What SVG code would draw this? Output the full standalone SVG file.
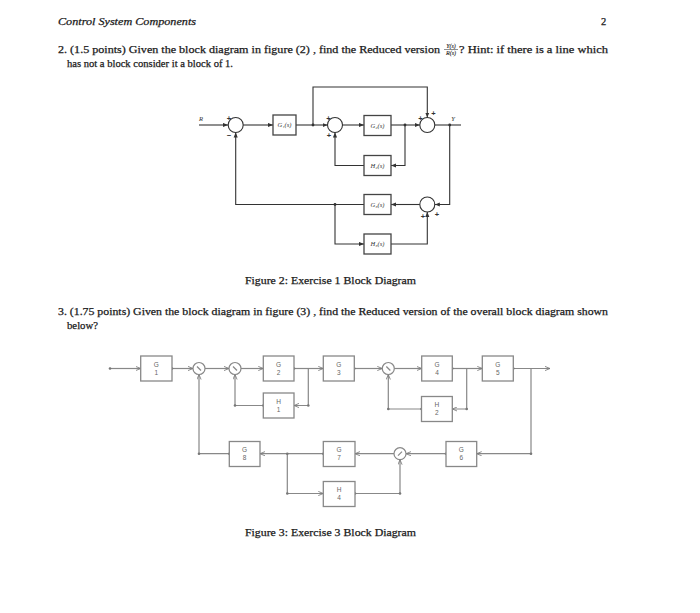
<svg xmlns="http://www.w3.org/2000/svg" width="700" height="613" viewBox="0 0 700 613">
<defs>
<style>
.t{font-family:"Liberation Serif",serif;font-size:10.5px;fill:#1a1a1a;stroke:#1a1a1a;stroke-width:0.25}
.it{font-style:italic}
.f2{fill:none;stroke:#333;stroke-width:1.1}
.b2{fill:#fff;stroke:#444;stroke-width:1.3}
.l2{font-family:"Liberation Serif",serif;font-style:italic;font-size:6.5px;fill:#333;text-anchor:middle}
.s2{font-family:"Liberation Sans",sans-serif;font-size:7.5px;fill:#333;text-anchor:middle;font-weight:bold}
.f3{fill:none;stroke:#888;stroke-width:1.2}
.b3{fill:#fff;stroke:#888;stroke-width:1.3}
.l3{font-family:"Liberation Sans",sans-serif;font-size:6.5px;fill:#666;text-anchor:middle}
.d2{fill:#333}
.d3{fill:#777}
</style>
<marker id="a2" viewBox="0 0 6 6" refX="6" refY="3" markerWidth="5" markerHeight="5" orient="auto" markerUnits="userSpaceOnUse"><path d="M0,0.5 L6,3 L0,5.5 Z" fill="#333"/></marker>
<marker id="a3" viewBox="0 0 6 6" refX="6" refY="3" markerWidth="5" markerHeight="5" orient="auto" markerUnits="userSpaceOnUse"><path d="M0,0.5 L6,3 L0,5.5" fill="none" stroke="#777" stroke-width="1"/></marker>
</defs>
<rect width="700" height="613" fill="#fff"/>

<g id="text">
<text class="t it" x="58" y="25" textLength="138" lengthAdjust="spacingAndGlyphs">Control System Components</text>
<text class="t" x="601" y="25">2</text>
<text class="t" x="58" y="53" textLength="382" lengthAdjust="spacingAndGlyphs">2. (1.5 points) Given the block diagram in figure (2) , find the Reduced version</text>
<text class="t it" x="451" y="48" text-anchor="middle" style="font-size:6px;stroke-width:0.1">Y(s)</text>
<line x1="444" y1="49.5" x2="458" y2="49.5" stroke="#222" stroke-width="0.5"/>
<text class="t it" x="451" y="55" style="font-size:6px;stroke-width:0.1" text-anchor="middle">R(s)</text>
<text class="t" x="459" y="53" textLength="149" lengthAdjust="spacingAndGlyphs">? Hint: if there is a line which</text>
<text class="t" x="67" y="67" textLength="166" lengthAdjust="spacingAndGlyphs">has not a block consider it a block of 1.</text>
<text class="t" x="245" y="284" textLength="171" lengthAdjust="spacingAndGlyphs">Figure 2: Exercise 1 Block Diagram</text>
<text class="t" x="58" y="315" textLength="550" lengthAdjust="spacingAndGlyphs">3. (1.75 points) Given the block diagram in figure (3) , find the Reduced version of the overall block diagram shown</text>
<text class="t" x="67" y="329" textLength="31" lengthAdjust="spacingAndGlyphs">below?</text>
<text class="t" x="245" y="536" textLength="171" lengthAdjust="spacingAndGlyphs">Figure 3: Exercise 3 Block Diagram</text>
</g>

<g id="fig2-connectors">
<path class="f2" d="M199,125 H228" marker-end="url(#a2)"/>
<path class="f2" d="M243.2,125 H273" marker-end="url(#a2)"/>
<path class="f2" d="M296,125 H327.5" marker-end="url(#a2)"/>
<path class="f2" d="M313,125 V87 H427.3 V117.5" marker-end="url(#a2)"/>
<path class="f2" d="M342.5,125 H364" marker-end="url(#a2)"/>
<path class="f2" d="M391,125 H419.8" marker-end="url(#a2)"/>
<path class="f2" d="M405,125 V165.5 H391" marker-end="url(#a2)"/>
<path class="f2" d="M364,165.5 H335 V132.5" marker-end="url(#a2)"/>
<path class="f2" d="M434.8,125 H461"/>
<path class="f2" d="M449.7,125 V204.5 H434.8" marker-end="url(#a2)"/>
<path class="f2" d="M419.8,204.5 H391" marker-end="url(#a2)"/>
<path class="f2" d="M364,204.5 H235.7 V132.5" marker-end="url(#a2)"/>
<path class="f2" d="M335,204.5 V244 H364" marker-end="url(#a2)"/>
<path class="f2" d="M391,244 H427.3 V212" marker-end="url(#a2)"/>
<circle class="d2" cx="313" cy="125" r="1.4"/>
<circle class="d2" cx="405" cy="125" r="1.4"/>
<circle class="d2" cx="449.7" cy="125" r="1.4"/>
<circle class="d2" cx="335" cy="204.5" r="1.4"/>
</g>

<g id="fig2-nodes">
<g id="f2-sum1"><circle cx="235.7" cy="125" r="7.5" class="f2"/><text class="s2" x="229" y="121">+</text><text class="s2" x="229" y="138">−</text></g>
<g id="f2-G1"><rect class="b2" x="273" y="115" width="23" height="20"/><text class="l2" x="284.5" y="127">G₁(s)</text></g>
<g id="f2-sum2"><circle cx="335" cy="125" r="7.5" class="f2"/><text class="s2" x="328.5" y="121">+</text><text class="s2" x="329" y="138">+</text></g>
<g id="f2-G2"><rect class="b2" x="364" y="115.5" width="27" height="20"/><text class="l2" x="377.5" y="127.5">G₂(s)</text></g>
<g id="f2-H2"><rect class="b2" x="364" y="155.5" width="27" height="20"/><text class="l2" x="377.5" y="167.5">H₂(s)</text></g>
<g id="f2-sum3"><circle cx="427.3" cy="125" r="7.5" class="f2"/><text class="s2" x="420.5" y="121">+</text><text class="s2" x="433.5" y="116">+</text></g>
<g id="f2-sum4"><circle cx="427.3" cy="204.5" r="7.5" class="f2"/><text class="s2" x="437" y="217">+</text><text class="s2" x="423" y="219">+</text></g>
<g id="f2-G3"><rect class="b2" x="364" y="194.5" width="27" height="20"/><text class="l2" x="377.5" y="206.5">G₃(s)</text></g>
<g id="f2-H3"><rect class="b2" x="364" y="234" width="27" height="20"/><text class="l2" x="377.5" y="246">H₃(s)</text></g>
<text class="l2" x="201" y="121">R</text>
<text class="l2" x="453" y="121">Y</text>
</g>

<g id="fig3-connectors">
<path class="f3" d="M110,368.5 H140.7" marker-end="url(#a3)"/>
<path class="f3" d="M172,368.5 H193" marker-end="url(#a3)"/>
<path class="f3" d="M205,368.5 H229" marker-end="url(#a3)"/>
<path class="f3" d="M241,368.5 H263.3" marker-end="url(#a3)"/>
<path class="f3" d="M294,368.5 H323.3" marker-end="url(#a3)"/>
<path class="f3" d="M308.3,368.5 V405.5 H294" marker-end="url(#a3)"/>
<path class="f3" d="M263.3,405.5 H235 V374.5" marker-end="url(#a3)"/>
<path class="f3" d="M354.3,368.5 H382.3" marker-end="url(#a3)"/>
<path class="f3" d="M394.3,368.5 H421.7" marker-end="url(#a3)"/>
<path class="f3" d="M452.3,368.5 H482.3" marker-end="url(#a3)"/>
<path class="f3" d="M466.7,368.5 V409 H452.3" marker-end="url(#a3)"/>
<path class="f3" d="M421.5,409 H388.3 V374.5" marker-end="url(#a3)"/>
<path class="f3" d="M513.3,368.5 H550" marker-end="url(#a3)"/>
<path class="f3" d="M531,368.5 V453.7 H476.7" marker-end="url(#a3)"/>
<path class="f3" d="M446,453.7 H406" marker-end="url(#a3)"/>
<path class="f3" d="M394,453.7 H355" marker-end="url(#a3)"/>
<path class="f3" d="M323.3,453.7 H260" marker-end="url(#a3)"/>
<path class="f3" d="M287.3,453.7 V493.5 H323.3" marker-end="url(#a3)"/>
<path class="f3" d="M355,493.5 H400 V459.7" marker-end="url(#a3)"/>
<path class="f3" d="M229.3,453.7 H199 V374.5" marker-end="url(#a3)"/>
<g class="d3">
<circle cx="110" cy="368.5" r="1.3"/><circle cx="172" cy="368.5" r="1.3"/><circle cx="294" cy="368.5" r="1.3"/>
<circle cx="308.3" cy="405.5" r="1.3"/><circle cx="235" cy="405.5" r="1.3"/><circle cx="263.3" cy="405.5" r="1.3"/>
<circle cx="354.3" cy="368.5" r="1.3"/><circle cx="452.3" cy="368.5" r="1.3"/><circle cx="466.7" cy="409" r="1.3"/>
<circle cx="388.3" cy="409" r="1.3"/><circle cx="421.5" cy="409" r="1.3"/><circle cx="513.3" cy="368.5" r="1.3"/>
<circle cx="531" cy="453.7" r="1.3"/><circle cx="446" cy="453.7" r="1.3"/><circle cx="323.3" cy="453.7" r="1.3"/>
<circle cx="287.3" cy="453.7" r="1.3"/><circle cx="287.3" cy="493.5" r="1.3"/><circle cx="355" cy="493.5" r="1.3"/>
<circle cx="400" cy="493.5" r="1.3"/><circle cx="229.3" cy="453.7" r="1.3"/><circle cx="199" cy="453.7" r="1.3"/>
</g>
</g>

<g id="fig3-nodes">
<g id="f3-G1"><rect class="b3" x="140.7" y="356" width="31.3" height="25"/><text class="l3" x="156.3" y="366.5">G</text><text class="l3" x="156.3" y="374.5">1</text></g>
<g id="f3-sumA"><circle class="f3" cx="199" cy="368.5" r="6"/><path class="f3" d="M197,366.5 L201,370.5"/></g>
<g id="f3-sumB"><circle class="f3" cx="235" cy="368.5" r="6"/><path class="f3" d="M233,366.5 L237,370.5"/></g>
<g id="f3-G2"><rect class="b3" x="263.3" y="356" width="30.7" height="25"/><text class="l3" x="278.6" y="366.5">G</text><text class="l3" x="278.6" y="374.5">2</text></g>
<g id="f3-H1"><rect class="b3" x="263.3" y="393" width="30.7" height="25"/><text class="l3" x="278.6" y="403.5">H</text><text class="l3" x="278.6" y="411.5">1</text></g>
<g id="f3-G3"><rect class="b3" x="323.3" y="356" width="31" height="25"/><text class="l3" x="338.8" y="366.5">G</text><text class="l3" x="338.8" y="374.5">3</text></g>
<g id="f3-sumD"><circle class="f3" cx="388.3" cy="368.5" r="6"/><path class="f3" d="M386.3,366.5 L390.3,370.5"/></g>
<g id="f3-G4"><rect class="b3" x="421.7" y="356" width="30.6" height="25"/><text class="l3" x="437" y="366.5">G</text><text class="l3" x="437" y="374.5">4</text></g>
<g id="f3-H2"><rect class="b3" x="421.5" y="396.5" width="30.8" height="25"/><text class="l3" x="436.9" y="407">H</text><text class="l3" x="436.9" y="415">2</text></g>
<g id="f3-G5"><rect class="b3" x="482.3" y="356" width="31" height="25"/><text class="l3" x="497.8" y="366.5">G</text><text class="l3" x="497.8" y="374.5">5</text></g>
<g id="f3-G6"><rect class="b3" x="446" y="441.5" width="30.7" height="25"/><text class="l3" x="461.3" y="452">G</text><text class="l3" x="461.3" y="460">6</text></g>
<g id="f3-sumC"><circle class="f3" cx="400" cy="453.7" r="6"/><path class="f3" d="M398,455.7 L402,451.7"/></g>
<g id="f3-G7"><rect class="b3" x="323.3" y="441.5" width="31.7" height="25"/><text class="l3" x="339.1" y="452">G</text><text class="l3" x="339.1" y="460">7</text></g>
<g id="f3-H4"><rect class="b3" x="323.3" y="481.5" width="31.7" height="25"/><text class="l3" x="339.1" y="492">H</text><text class="l3" x="339.1" y="500">4</text></g>
<g id="f3-G8"><rect class="b3" x="229.3" y="441.5" width="30.7" height="25"/><text class="l3" x="244.6" y="452">G</text><text class="l3" x="244.6" y="460">8</text></g>
</g>
</svg>
